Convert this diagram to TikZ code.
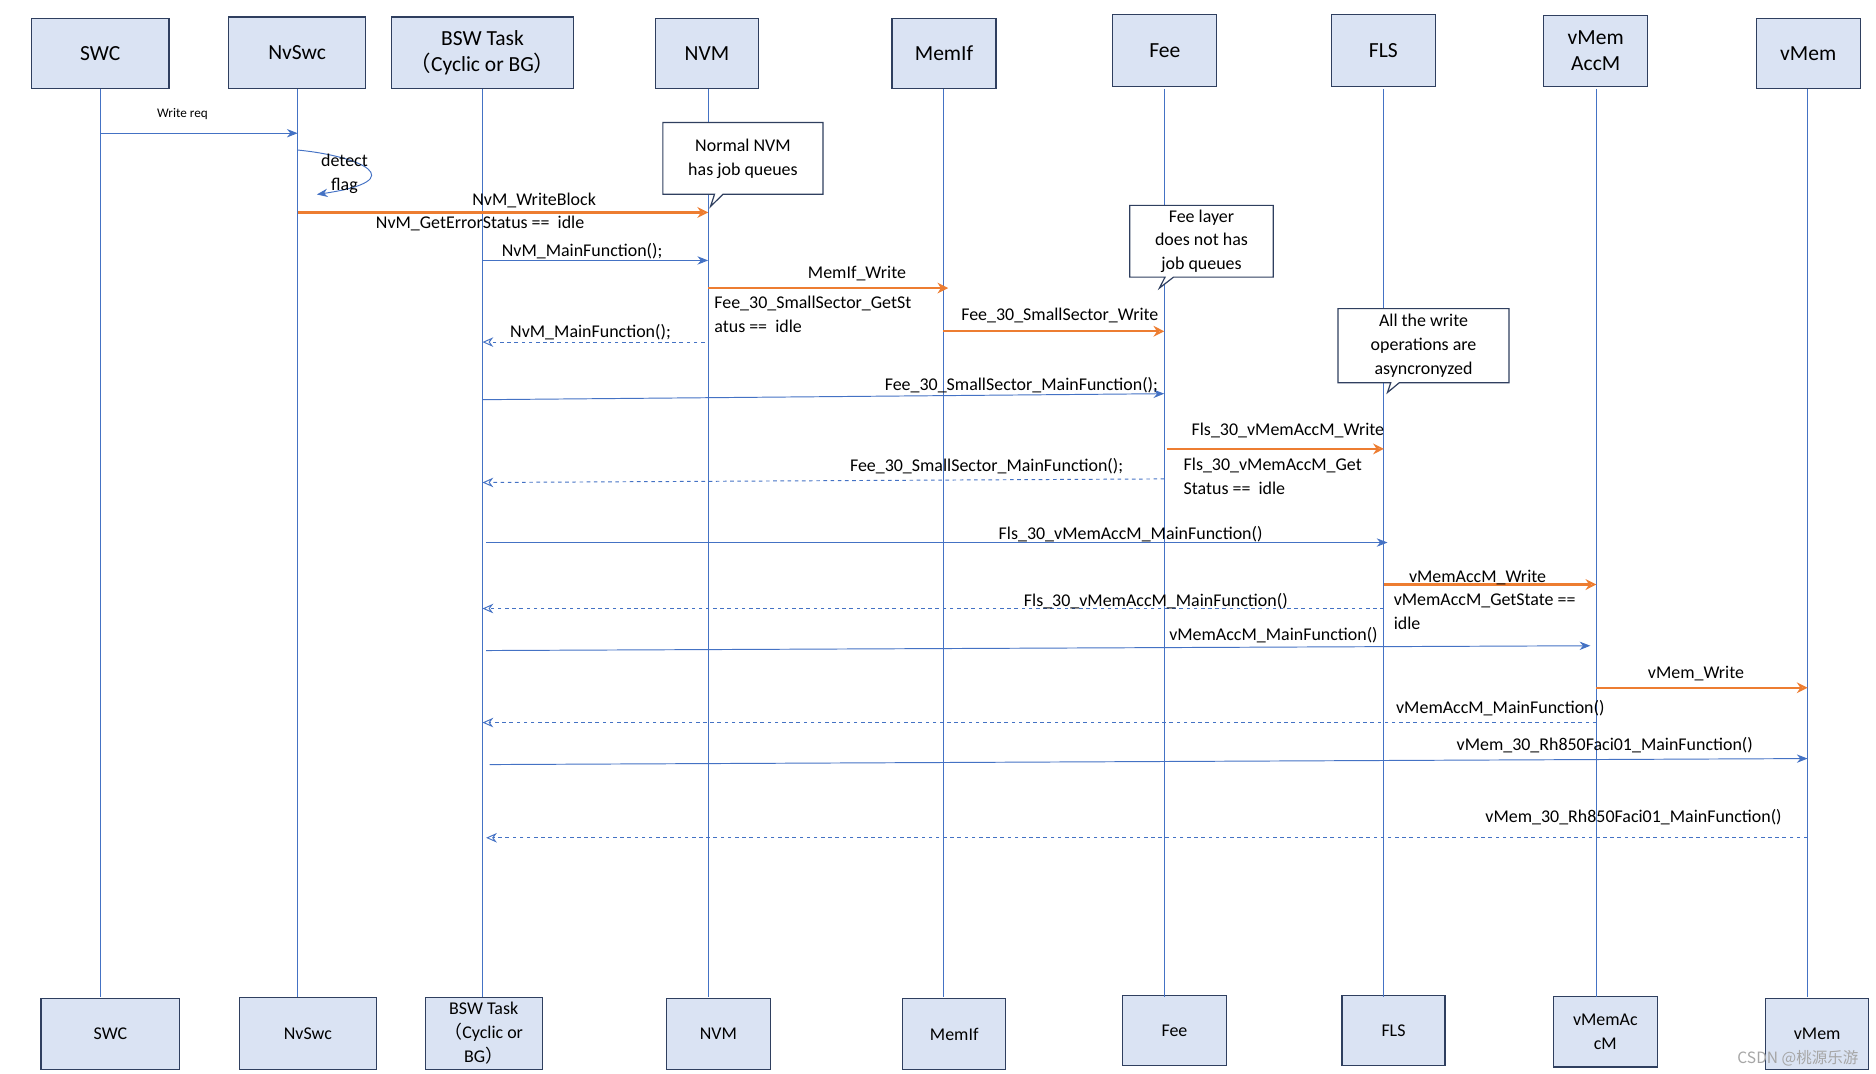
\documentclass[tikz,border=0pt]{standalone}
\usepackage{fontspec}
\setmainfont{Carlito}
\newfontfamily\cjkf{Noto Sans CJK SC}
\usetikzlibrary{arrows.meta,shapes.callouts}
\definecolor{boxfill}{HTML}{DAE3F3}
\definecolor{boxline}{HTML}{2F3F5F}
\definecolor{lblue}{HTML}{4472C4}
\definecolor{orng}{HTML}{ED7D31}
\newcommand{\lp}{{\cjkf （}}
\newcommand{\rp}{{\cjkf ）}}
\begin{document}
\begin{tikzpicture}[x=1bp,y=-1bp,
  box/.style={draw=boxline,fill=boxfill,line width=1pt,align=center,inner sep=0pt},
  life/.style={draw=lblue,line width=0.8pt},
  call/.style={draw=lblue,line width=0.8pt,-{Stealth[length=9pt,width=7pt]}},
  ret/.style={draw=lblue,line width=0.8pt,dashed,-{Stealth[open,length=9pt,width=8pt]}},
  ora/.style={draw=orng,line width=2pt,-{Stealth[open,length=9pt,width=9pt]}},
  lbl/.style={font=\fontsize{15}{17}\selectfont,inner sep=1pt},
  note/.style={draw=boxline,fill=white,line width=1pt,align=center,font=\fontsize{15}{20}\selectfont}]
\useasboundingbox (0,0) rectangle (1563,894);
% boxes
\def\tb#1#2#3#4#5#6{\node[box,minimum width=#3-#2,minimum height=#5-#4,font=\fontsize{18}{22}\selectfont] (#1) at ({(#2+#3)/2},{(#4+#5)/2}) {#6};}
\def\bb#1#2#3#4#5#6{\node[box,minimum width=#3-#2,minimum height=#5-#4,font=\fontsize{15}{20}\selectfont] (#1) at ({(#2+#3)/2},{(#4+#5)/2}) {#6};}
\tb{tSWC}{26}{141}{15}{74}{SWC}
\tb{tNvSwc}{190}{305}{14}{74}{NvSwc}
\tb{tBSW}{326}{478}{14}{74}{BSW Task\\\lp Cyclic or BG\rp}
\tb{tNVM}{546}{632}{15}{74}{NVM}
\tb{tMemIf}{743}{830}{15}{74}{MemIf}
\tb{tFee}{927}{1014}{12}{72}{Fee}
\tb{tFLS}{1109}{1196}{12}{72}{FLS}
\tb{tAcc}{1286}{1373}{13}{72}{vMem\\AccM}
\tb{tvMem}{1463}{1550}{15}{74}{vMem}
\bb{bSWC}{34}{150}{832}{891}{SWC}
\bb{bNvSwc}{199}{314}{831}{891}{NvSwc}
\bb{bBSW}{354}{452}{831}{891}{BSW Task\\\lp Cyclic or\\BG\rp}
\bb{bNVM}{555}{642}{832}{891}{NVM}
\bb{bMemIf}{752}{838}{832}{891}{MemIf}
\bb{bFee}{935}{1022}{829}{888}{Fee}
\bb{bFLS}{1118}{1204}{829}{888}{FLS}
\bb{bAcc}{1294}{1381}{830}{889}{vMemAc\\cM}
\bb{bvMem}{1471}{1557}{832}{891}{vMem}
% lifelines
\foreach \n/\x in {SWC/84,NvSwc/248,BSW/402,NVM/590,MemIf/786,Fee/970,FLS/1153,Acc/1330,vMem/1506}{
  \coordinate (l\n a) at (\x,74); \coordinate (l\n b) at (\x,831);
  \draw[life] (l\n a) -- (l\n b);}
% messages
\def\msg#1#2#3#4#5{\coordinate (s) at (#1,#2); \coordinate (e) at (#3,#4); \draw[#5] (s) -- (e);}
\msg{84}{111}{248}{111}{call}
\node[font=\fontsize{11}{12}\selectfont] at (152,95) {Write req};
\coordinate (lpA) at (248,125); \coordinate (lpB) at (264,162);
\draw[call] (lpA) .. controls (300,130) and (345,150) .. (lpB);
\node[lbl,align=center,font=\fontsize{15}{20}\selectfont] at (287,145) {detect\\flag};
\msg{248}{177}{590}{177}{ora}
\node[lbl] at (445,167) {NvM\_WriteBlock};
\node[lbl] at (400,186) {NvM\_GetErrorStatus ==\ \ idle};
\msg{402}{217}{590}{217}{call}
\node[lbl] at (485,209) {NvM\_MainFunction();};
\msg{590}{240}{790}{240}{ora}
\node[lbl] at (714,228) {MemIf\_Write};
\node[lbl,anchor=west,align=left,font=\fontsize{15}{20}\selectfont] at (594,262) {Fee\_30\_SmallSector\_GetSt\\atus ==\ \ idle};
\msg{587}{285}{402}{285}{ret}
\node[lbl] at (492,277) {NvM\_MainFunction();};
\msg{786}{276}{970}{276}{ora}
\node[lbl] at (883,263) {Fee\_30\_SmallSector\_Write};
\msg{402}{333}{970}{328}{call}
\node[lbl] at (851,321) {Fee\_30\_SmallSector\_MainFunction();};
\msg{972}{374}{1153}{374}{ora}
\node[lbl] at (1073,359) {Fls\_30\_vMemAccM\_Write};
\node[lbl,anchor=west,align=left,font=\fontsize{15}{20}\selectfont] at (985,397) {Fls\_30\_vMemAccM\_Get\\Status ==\ \ idle};
\msg{970}{399}{402}{402}{ret}
\node[lbl] at (822,388) {Fee\_30\_SmallSector\_MainFunction();};
\msg{405}{452}{1156}{452}{call}
\node[lbl] at (942,445) {Fls\_30\_vMemAccM\_MainFunction()};
\msg{1153}{487}{1330}{487}{ora}
\node[lbl] at (1231,481) {vMemAccM\_Write};
\node[lbl,anchor=west,align=left,font=\fontsize{15}{20}\selectfont] at (1160,510) {vMemAccM\_GetState ==\\idle};
\msg{1153}{507}{402}{507}{ret}
\node[lbl] at (963,501) {Fls\_30\_vMemAccM\_MainFunction()};
\msg{405}{542}{1325}{538}{call}
\node[lbl] at (1061,529) {vMemAccM\_MainFunction()};
\msg{1330}{573}{1506}{573}{ora}
\node[lbl] at (1413,561) {vMem\_Write};
\msg{1330}{602}{402}{602}{ret}
\node[lbl] at (1250,590) {vMemAccM\_MainFunction()};
\msg{408}{637}{1506}{632}{call}
\node[lbl] at (1337,621) {vMem\_30\_Rh850Faci01\_MainFunction()};
\msg{1506}{698}{405}{698}{ret}
\node[lbl] at (1361,681) {vMem\_30\_Rh850Faci01\_MainFunction()};
% notes
\node[note,minimum width=134,minimum height=60,rectangle callout,callout absolute pointer={(592,172)}] (n1) at (619,132) {Normal NVM\\has job queues};
\node[note,minimum width=120,minimum height=60,rectangle callout,callout absolute pointer={(966,240)}] (n2) at (1001,201) {Fee layer\\does not has\\job queues};
\node[note,minimum width=143,minimum height=62,rectangle callout,callout absolute pointer={(1156,327)}] (n3) at (1186,288) {All the write\\operations are\\asyncronyzed};
\node[font=\cjkf\fontsize{13}{14}\selectfont,text=gray!70] (wm) at (1498,882) {CSDN @桃源乐游};
\end{tikzpicture}
\end{document}
